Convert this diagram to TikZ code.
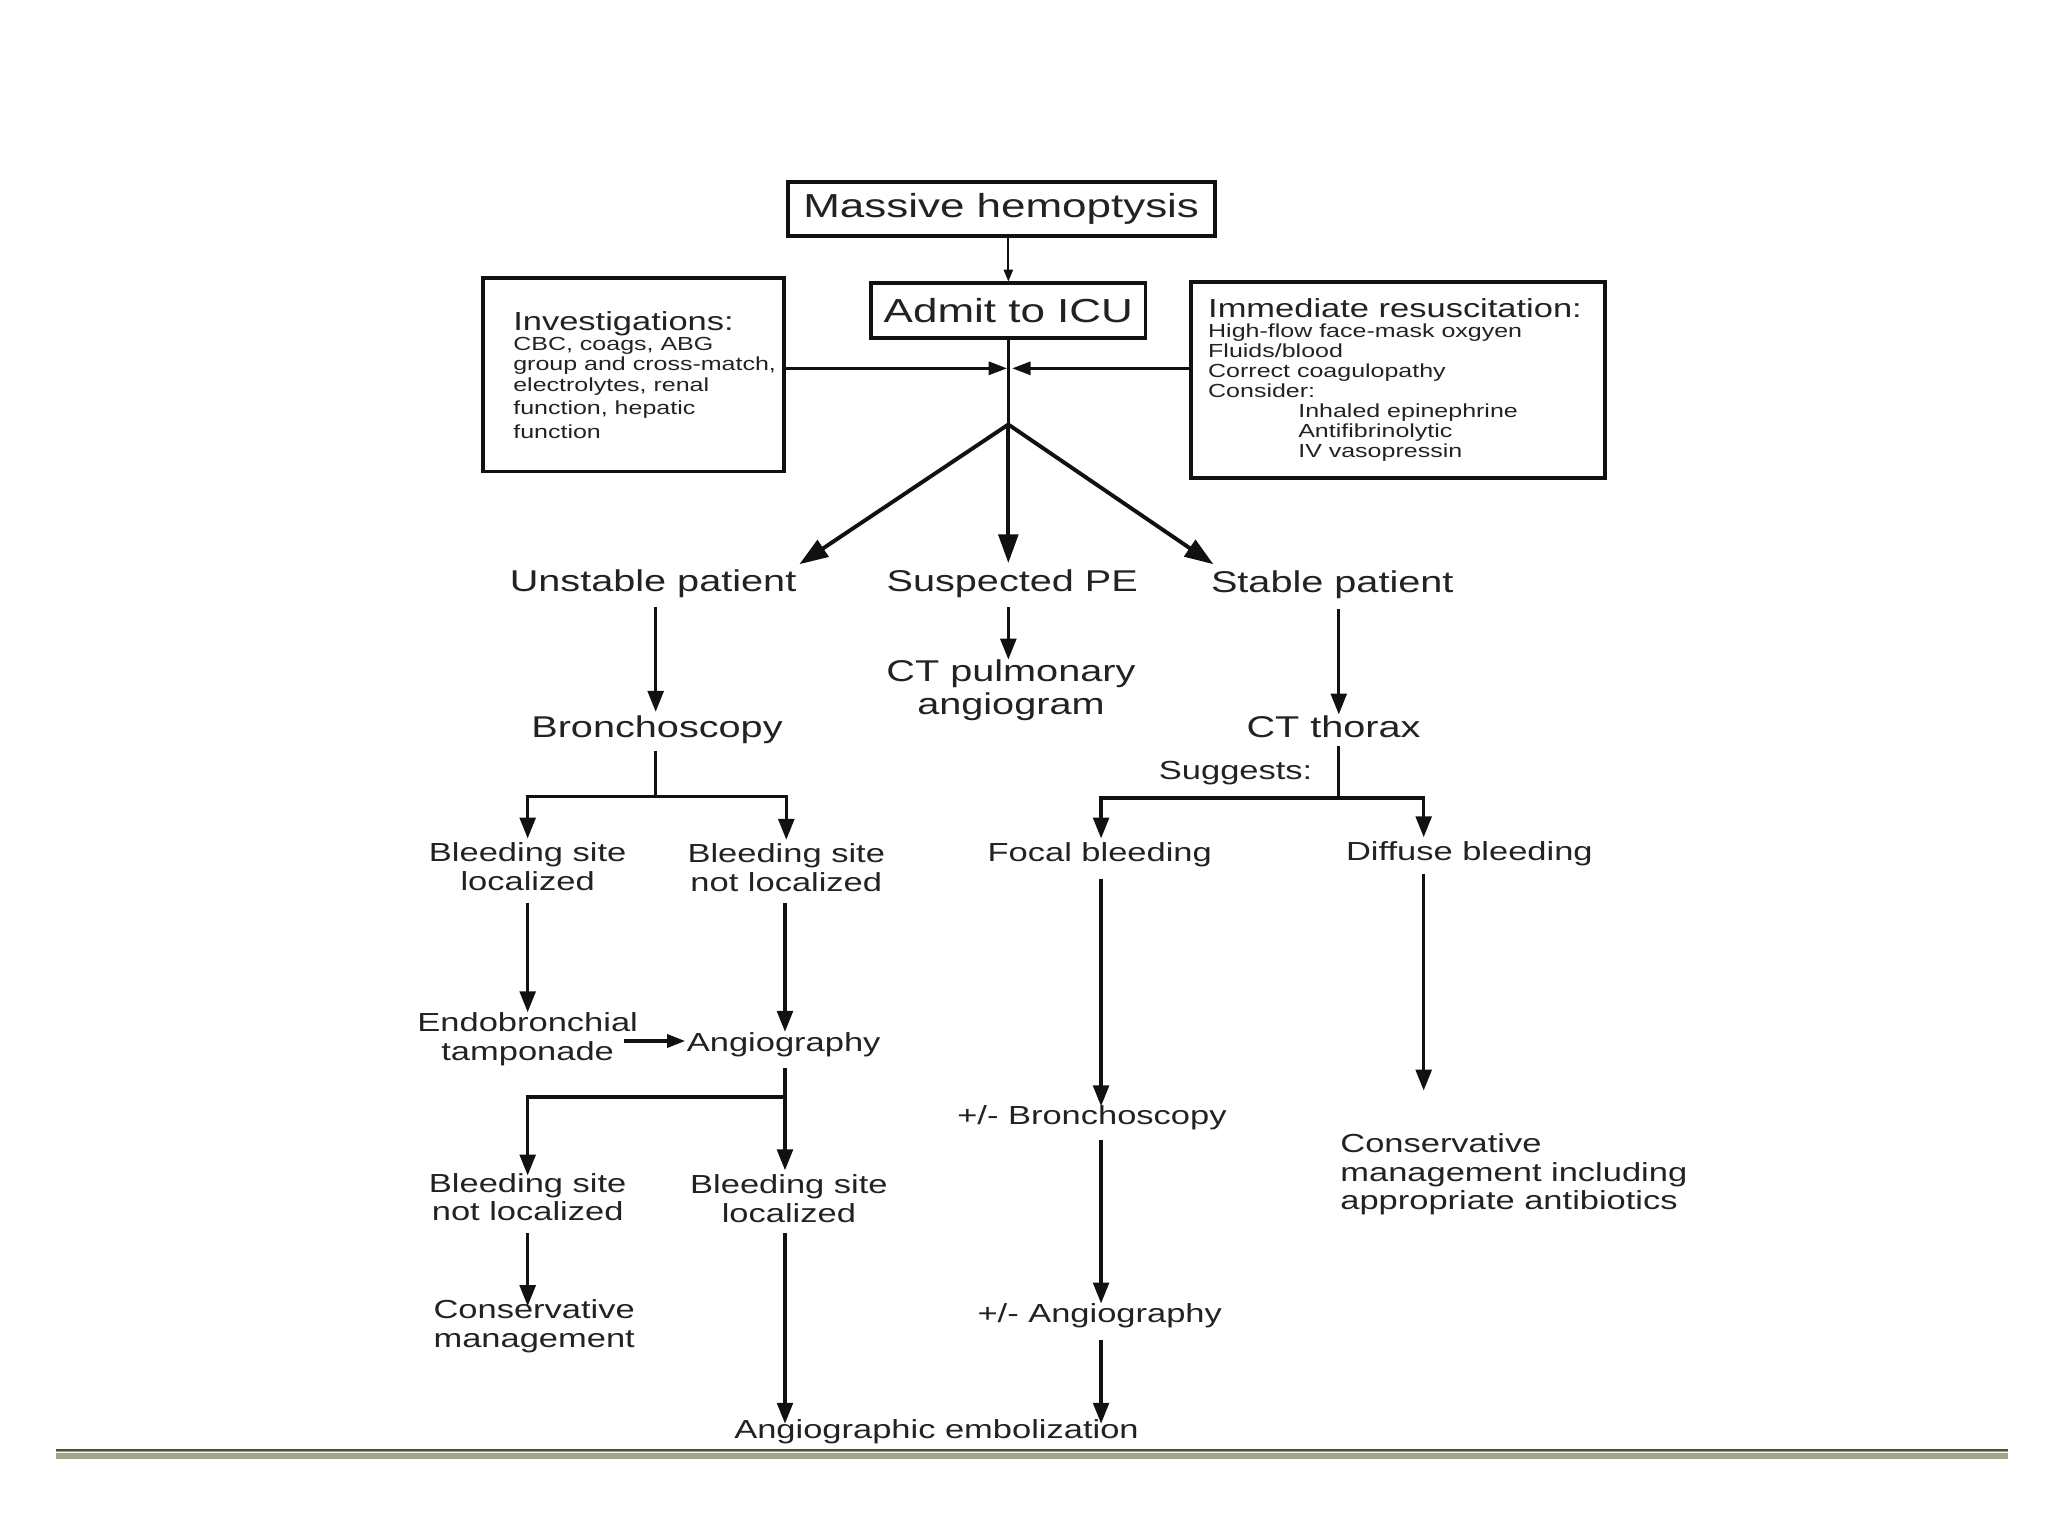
\documentclass[tikz,border=0pt]{standalone}
\usepackage{fontspec}
\setmainfont[FakeStretch=1.32]{Liberation Sans}
\usetikzlibrary{arrows.meta}
\newcommand\fs[2]{\fontsize{#1}{#2}\selectfont}
\definecolor{txt}{HTML}{222222}
\definecolor{ln}{HTML}{111111}
\definecolor{band}{HTML}{A3A38A}
\definecolor{banddk}{HTML}{4E4E3E}
\begin{document}
\begin{tikzpicture}[x=1pt,y=-1pt,
  every node/.style={text=txt},
  bigbox/.style={draw=ln, line width=3pt, inner sep=0pt, font=\fs{25.5}{28}},
  infobox/.style={draw=ln, line width=3pt, inner sep=0pt},
  labA/.style={font=\fs{23}{25}, align=center, inner xsep=1pt, inner ysep=3pt},
  labB/.style={font=\fs{20}{22}, align=center, inner xsep=1pt, inner ysep=3pt},
  conn/.style={draw=ln, line width=2.6pt},
  arr/.style={conn, -{Triangle[length=16pt,width=12pt]}},
  arrL/.style={arr, shorten <=4pt},
  arrD/.style={conn, line width=3pt, -{Triangle[length=22pt,width=15pt]}},
  arrS/.style={draw=ln, line width=2pt, -{Triangle[length=14pt,width=10pt]}},
  arrT/.style={draw=ln, line width=1.4pt, -{Triangle[length=9pt,width=7pt]}}
]
\useasboundingbox (0,0) rectangle (1568,1176);

% top boxes
\node[bigbox, minimum width=327, minimum height=42] (mh) at (766.5,160) {Massive hemoptysis};
\node[bigbox, minimum width=210, minimum height=42] (icu) at (772,238) {Admit to ICU};

\node[infobox, minimum width=230, minimum height=148] (inv) at (485,287)
 {\parbox{230pt}{\raggedright\leftskip=23pt\fs{14.5}{15.6}%
  {\fs{20}{20}Investigations:}\\
  CBC, coags, ABG\\
  \mbox{group and cross-match,}\\
  electrolytes, renal\\[2pt]
  function, hepatic\\[3pt]
  function\par}};

\node[infobox, minimum width=317, minimum height=150] (res) at (1070.5,291)
 {\parbox{317pt}{\raggedright\leftskip=13pt\fs{14.5}{15.4}%
  {\fs{20}{20}Immediate resuscitation:}\\
  High-flow face-mask oxgyen\\
  Fluids/blood\\
  Correct coagulopathy\\
  Consider:\\
  \hspace*{69pt}Inhaled epinephrine\\
  \hspace*{69pt}Antifibrinolytic\\
  \hspace*{69pt}IV vasopressin\par}};

\coordinate (jn) at (772,282);
\coordinate (sp) at (772,325);

\draw[arrT] (mh.south -| icu.north) -- (icu.north);
\draw[conn] (icu.south) -- (sp);
\draw[arrS] (inv.east |- jn) -- ([xshift=-1]jn);
\draw[arrS] (res.west |- jn) -- ([xshift=3]jn);

% level 1
\node[labA] (unst) at (500,447) {Unstable patient};
\node[labA] (spe) at (775,447) {Suspected PE};
\node[labA] (stab) at (1020,448) {Stable patient};

\draw[arrD] (sp) -- (612,432) coordinate (t1);
\draw[arrD, shorten >=2pt] (sp) -- (sp |- spe.north);
\draw[arrD] (sp) -- (929,432) coordinate (t3);

% level 2
\node[labA, anchor=north] (bro) at (503,545) {Bronchoscopy};
\node[labA, anchor=north] (ctpa) at (774,502) {CT pulmonary\\angiogram};
\node[labA, anchor=north] (ctt) at (1021,545) {CT thorax};

\coordinate (bx) at (502,0);
\coordinate (cx) at (1025,0);
\draw[arrL] (unst.south -| bx) -- (bro.north -| bx);
\draw[arrL, shorten >=-3pt] (sp |- spe.south) -- (sp |- ctpa.north);
\draw[arrL, shorten >=-2pt] (stab.south -| cx) -- (ctt.north -| cx);

% bronchoscopy branch
\node[labB, anchor=north] (bsl) at (404,642) {Bleeding site\\localized};
\node[labB, anchor=north] (bsnl) at (602,643) {Bleeding site\\not localized};
\coordinate (b1) at (502,610);
\draw[conn] ([yshift=-2]bro.south -| b1) -- (b1);
\draw[conn] ([xshift=-1.3]bsl |- b1) -- ([xshift=1.3]bsnl |- b1);
\draw[arr] (bsl |- b1) -- (bsl.north);
\draw[arr] (bsnl |- b1) -- (bsnl.north);

\node[labB, anchor=north] (endo) at (404,772) {Endobronchial\\tamponade};
\node[labB, anchor=north] (ang) at (600,787) {Angiography};
\draw[arr, shorten <=6pt, shorten >=-3pt] (bsl.south) -- (endo.north);
\draw[arr, shorten <=5pt, shorten >=-3pt] (bsnl.south -| 601,0) -- (601,787);
\draw[conn, -{Triangle[length=14pt,width=10pt]}] (478,797) -- (ang.west |- 0,797);

\coordinate (a1) at (601,840);
\node[labB, anchor=north] (bsnl2) at (404,895) {Bleeding site\\not localized};
\node[labB, anchor=north] (bsl2) at (604,896) {Bleeding site\\localized};
\draw[arr, shorten <=6pt] (ang.south -| a1) -- (a1 |- bsl2.north);
\draw[arr, shorten >=-5pt] ([xshift=1.3]a1) -- (a1 -| bsnl2) -- (bsnl2.north);

\node[labB, anchor=north] (cons) at (409,992) {Conservative\\management};
\node[labB, anchor=north] (emb) at (717,1084) {Angiographic embolization};
\draw[arr, shorten <=6pt, shorten >=-8pt] (bsnl2.south -| 404,0) -- (404,992);
\draw[arr, shorten <=5pt, shorten >=-6pt] (bsl2.south -| a1) -- (a1 |- emb.north);

% CT thorax branch
\node[labB] (sugg) at (946,592) {Suggests:};
\node[labB, anchor=north] (focal) at (842,642) {Focal bleeding};
\node[labB, anchor=north] (diff) at (1125,641) {Diffuse bleeding};
\coordinate (ts) at (1025,611);
\coordinate (fx) at (843,0);
\coordinate (dx) at (1090,0);
\draw[conn] ([yshift=-3]ctt.south -| cx) -- (ts);
\draw[conn] ([xshift=-1.3]fx |- ts) -- ([xshift=1.3]dx |- ts);
\draw[arr] (fx |- ts) -- (fx |- focal.north);
\draw[arr] (dx |- ts) -- (dx |- diff.north);

\node[labB, anchor=north] (pmb) at (836,843) {+/- Bronchoscopy};
\node[labB, anchor=north] (pma) at (842,995) {+/- Angiography};
\draw[arr, shorten <=6pt, shorten >=-4pt] (focal.south -| fx) -- (fx |- pmb.north);
\draw[arr, shorten <=5pt, shorten >=-3pt] (pmb.south -| fx) -- (fx |- pma.north);
\draw[arr, shorten <=6pt, shorten >=-6pt] (pma.south -| fx) -- (fx |- emb.north);

\node[labB, anchor=north west, align=left, font=\fs{20}{21.5}] (consab) at (1025,865)
 {Conservative\\management including\\appropriate antibiotics};
\coordinate (dtip) at (1090,835);
\draw[arr, shorten <=3pt] (diff.south -| dx) -- (dtip);

% bottom rule
\fill[band] (43,1110) rectangle (1537,1117);
\draw[banddk, line width=1.6pt] (43,1110) -- (1537,1110);
\draw[white!85!band, line width=0.8pt] (43,1112) -- (1537,1112);
\end{tikzpicture}
\end{document}
